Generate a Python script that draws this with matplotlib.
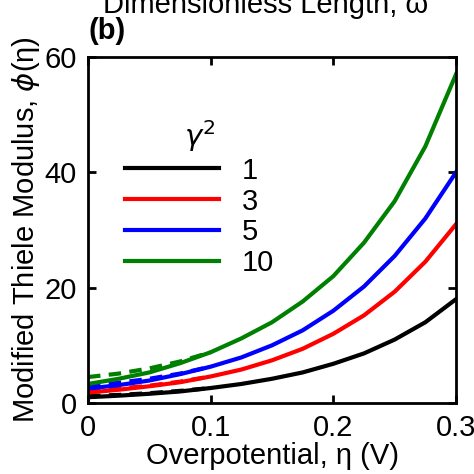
import matplotlib
matplotlib.use("Agg")
import matplotlib.pyplot as plt

plt.rcParams['font.family'] = ['Liberation Sans', 'DejaVu Sans']

eta = [0, 0.025, 0.05, 0.075, 0.1, 0.125, 0.15, 0.175, 0.2, 0.225, 0.25, 0.275, 0.3]
gammas = ['1', '3', '5', '10']
colors = ['black', 'red', 'blue', 'green']
phi = {
    '1':  [1.0, 1.27, 1.6, 2.0, 2.6, 3.3, 4.2, 5.3, 6.8, 8.6, 11.0, 14.0, 18.0],
    '3':  [1.8, 2.3, 2.9, 3.6, 4.6, 5.8, 7.4, 9.4, 12.0, 15.2, 19.3, 24.5, 31.0],
    '5':  [2.5, 3.1, 3.9, 5.0, 6.3, 7.9, 10.0, 12.6, 16.0, 20.2, 25.5, 32.0, 40.0],
    '10': [3.3, 4.2, 5.3, 6.9, 8.8, 11.2, 14.0, 17.6, 22.0, 27.8, 35.0, 44.5, 57.0],
}
eta_d = [0, 0.025, 0.05, 0.075, 0.1]
phi_d = {
    '1':  [1.2, 1.4, 1.7, 2.1, 2.6],
    '3':  [2.1, 2.5, 3.0, 3.7, 4.6],
    '5':  [3.0, 3.5, 4.2, 5.1, 6.3],
    '10': [4.5, 5.1, 6.0, 7.2, 8.8],
}

fig = plt.figure(figsize=(4.74, 4.74), dpi=100)
ax = fig.add_axes([88/474, 71/474, 368/474, 346/474])
for g, c in zip(gammas, colors):
    ax.plot(eta, phi[g], color=c, lw=3, label=g)
    ax.plot(eta_d, phi_d[g], color=c, lw=3, ls=(0, (3, 2)))

ax.set_xlim(0, 0.3)
ax.set_ylim(0, 60)
ax.set_xticks([0, 0.1, 0.2, 0.3])
ax.set_xticklabels(['0', '0.1', '0.2', '0.3'])
ax.set_yticks([0, 20, 40, 60])
ax.tick_params(direction='in', top=True, right=True, labelsize=21, width=2, length=6, pad=8)
for s in ax.spines.values():
    s.set_linewidth(2)
ax.set_xlabel('Overpotential, η (V)', fontsize=21, labelpad=0)
ax.set_ylabel('Modified Thiele Modulus, $\\phi$(η)', fontsize=21, labelpad=2)
leg = ax.legend(title='$\\gamma^2$', fontsize=21, title_fontsize=21, frameon=False,
                loc='upper left', bbox_to_anchor=(0.03, 0.9), handlelength=3.2,
                labelspacing=0.1)
fig.text(0.56, 0.99, 'Dimensionless Length, ω', fontsize=21, ha='center', va='center')
fig.text(88/474, 0.935, '(b)', fontsize=21, fontweight='bold', ha='left', va='center')
fig.savefig('out.png', dpi=100)
